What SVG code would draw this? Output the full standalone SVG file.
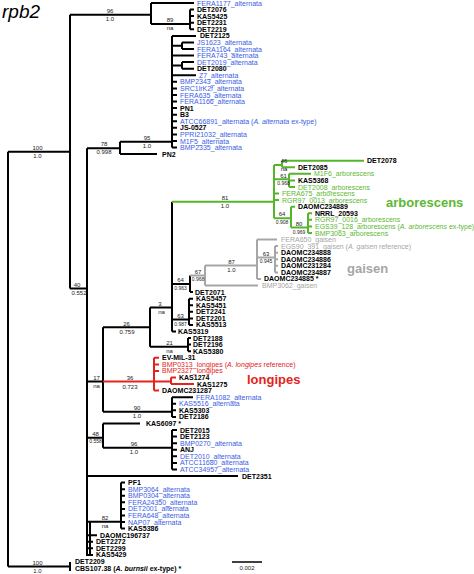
<svg xmlns="http://www.w3.org/2000/svg" width="474" height="574" viewBox="0 0 474 574">
<style>
text{font-family:"Liberation Sans",Arial,sans-serif;font-size:7px;fill:#000}
.b{font-weight:bold}
.bl{fill:#3d60e4}
.gr{fill:#5cb832}
.rd{fill:#e3231c}
.gy{fill:#a6a6a6}
.s{font-size:6px;text-anchor:middle;fill:#222}
.ss{font-size:5px;text-anchor:middle;fill:#222}
.grp{font-size:13px;font-weight:bold}
.k{fill:none;stroke:#000;stroke-width:2}
.kg{fill:none;stroke:#55b52b;stroke-width:2}
.kr{fill:none;stroke:#e3231c;stroke-width:2}
.ky{fill:none;stroke:#a6a6a6;stroke-width:2}
</style>
<rect width="474" height="574" fill="#fff"/>
<text id="title" x="2" y="18" style="font-size:19px;font-style:italic">rpb2</text>

<g id="connectors">
<path class="k" d="M8,151.7V566.5M8,151.7H70M8,566.5H70M70,562V571
M70,14.7V288.5M70,14.7H151M151,3V24M151,3H194M151,24H190M190,9.6V29.3M190,9.6H194M190,16.1H194M190,22.7H194M190,29.3H194
M70,288.5H87M87,148.3V556M87,148.3H120M120,141.7V154.1M120,154.1H157M120,141.7H172
M172,35.9V147.5M172,35.9H196M172,45.7H182M182,42.4V49M182,42.4H194M182,49H194M172,55.6H194M172,65.4H182M182,62.1V68.7M182,62.1H194M182,68.7H194M172,75.3H196
M172,81.8H177M172,88.4H177M172,95H177M172,101.6H177M172,108.1H177M172,114.7H177M172,121.3H177M172,127.8H177M172,134.4H177M172,141H177M172,147.5H177
M172,201.7V331.5M172,284H190M190,275.5V292.1M190,292.1H193
M150,307.5H172M172,319.5H189M189,298.7V324.9M189,298.7H193M189,305.2H193M189,311.8H193M189,318.4H193M189,324.9H193M172,331.5H176
M103,327.3H150M150,307.5V346.7M150,346.7H188M188,338.1V351.2M188,338.1H191M188,344.6H191M188,351.2H191
M103,327.3V411.7M87,381.5H103
M103,411.7H172M172,397.2V416.9M172,397.2H193M172,403.8H176M172,410.3H176M172,416.9H176
M87,437.7H103M103,423.5V447.7M103,423.5H140M103,447.7H172M172,430.1V469.5M172,430.1H177M172,436.6H177M172,443.2H177M172,449.8H177M172,456.3H177M172,462.9H177M172,469.5H177
M87,476H238
M87,521.7H121M121,482.6V528.6M121,482.6H125M121,489.2H125M121,495.8H125M121,502.3H125M121,508.9H125M121,515.5H125M121,522H125M121,528.6H125
M90,521V556M87,535.2H97M87,541.7H93M87,548.3H93M87,554.9H93"/>
<path class="kg" d="M172,201.7H274M274,165V218.3M274,165H282M282,160.7V167.3M282,160.7H364M282,167.3H295
M274,179.3H289M289,173.8V187M289,173.8H311M289,180.4H295M289,187H295M274,193.5H279M274,200.1H279
M274,218.3H291M291,206.7V227.5M291,206.7H295M291,227.5H308M308,213.2V233M308,213.2H312M308,219.8H312M308,226.4H312M308,233H312"/>
<path class="ky" d="M190,275.5H205M205,265.5V285.5M205,265.5H257M205,285.5H258M257,239.5V278.9M257,239.5H277M257,257.5H275M275,246.1V272.4M275,246.1H278M275,252.7H278M275,259.2H278M275,265.8H278M275,272.4H278M257,278.9H261"/>
<path class="kr" d="M103,381.5H171M154,357.8V390.6M154,357.8H159M154,364.4H159M154,370.9H159M154,390.6H159M171,377.5V384.1M171,377.5H176M171,384.1H194"/>
<path d="M232,562H262" stroke="#000" stroke-width="1.5"/>
</g>

<g id="support">
<text class="s" x="110" y="12.5">96</text><text class="s" x="110" y="20.5">1.0</text>
<text class="s" x="170" y="22">89</text><text class="s" x="170" y="30">na</text>
<text class="s" x="147" y="139.7">95</text><text class="s" x="147" y="147.7">1.0</text>
<text class="s" x="104" y="146.3">78</text><text class="s" x="104" y="154.3">0.998</text>
<text class="s" x="37.5" y="149.7">100</text><text class="s" x="37.5" y="157.7">1.0</text>
<text class="s" x="77" y="286.5">40</text><text class="s" x="79" y="294.5">0.552</text>
<text class="s" x="225" y="199.7">81</text><text class="s" x="225" y="207.7">1.0</text>
<text class="s" x="284" y="163">46</text><text class="s" x="284" y="171">na</text>
<text class="s" x="283.5" y="177.5">61</text><text class="ss" x="283.5" y="185">0.968</text>
<text class="s" x="282" y="216">64</text><text class="ss" x="282" y="223.5">0.908</text>
<text class="s" x="299" y="225.8">80</text><text class="ss" x="299" y="233.5">0.969</text>
<text class="s" x="231.5" y="263.5">87</text><text class="s" x="231.5" y="271.5">1.0</text>
<text class="s" x="266" y="255.5">63</text><text class="ss" x="266" y="263">0.945</text>
<text class="s" x="198" y="273.8">67</text><text class="ss" x="198" y="281.3">0.968</text>
<text class="s" x="180.5" y="282.2">64</text><text class="ss" x="180.5" y="289.5">0.963</text>
<text class="s" x="160" y="305.5">3</text><text class="s" x="161.5" y="313.5">na</text>
<text class="s" x="180.5" y="317.8">63</text><text class="ss" x="180.5" y="325.5">0.987</text>
<text class="s" x="126.5" y="325.5">26</text><text class="s" x="127" y="334">0.759</text>
<text class="s" x="169.5" y="344.8">21</text><text class="s" x="169.5" y="352.7">na</text>
<text class="s" x="96.5" y="379.7">17</text><text class="s" x="96.5" y="388">na</text>
<text class="s" x="130" y="379.7">36</text><text class="s" x="130" y="388.5">0.723</text>
<text class="s" x="137" y="409.7">90</text><text class="s" x="137" y="417.7">1.0</text>
<text class="s" x="95.5" y="435.7">48</text><text class="ss" x="95.5" y="443">0.558</text>
<text class="s" x="134" y="445.7">96</text><text class="s" x="134" y="453.7">1.0</text>
<text class="s" x="105" y="519.7">82</text><text class="s" x="105" y="527.7">na</text>
<text class="s" x="37.5" y="564.5">100</text><text class="s" x="37.5" y="572.5">1.0</text>
<text class="s" x="247" y="569.5">0.002</text>
</g>

<g id="taxa">
<text class="bl" x="197" y="5.5">FERA1177_alternata</text>
<text class="b" x="197" y="12.1">DET2076</text>
<text class="b" x="197" y="18.6">KAS5425</text>
<text class="b" x="197" y="25.2">DET2231</text>
<text class="b" x="197" y="31.8">DET2219</text>
<text class="b" x="200" y="38.4">DET2125</text>
<text class="bl" x="197" y="44.9">JS1623_alternata</text>
<text class="bl" x="197" y="51.5">FERA1164_alternata</text>
<text class="bl" x="197" y="58.1">FERA743_alternata</text>
<text class="bl" x="197" y="64.6">DET2019_alternata</text>
<text class="b" x="197" y="71.2">DET2080</text>
<text class="bl" x="199" y="77.8">Z7_alternata</text>
<text class="bl" x="180" y="84.3">BMP2343_alternata</text>
<text class="bl" x="180" y="90.9">SRC1lrK2f_alternata</text>
<text class="bl" x="180" y="97.5">FERA635_alternata</text>
<text class="bl" x="180" y="104.1">FERA1166_alternata</text>
<text class="b" x="180" y="110.6">PN1</text>
<text class="b" x="180" y="117.2">B3</text>
<text class="bl" x="180" y="123.8">ATCC66891_alternata (<tspan font-style="italic">A. alternata</tspan> ex-type)</text>
<text class="b" x="180" y="130.3">JS-0527</text>
<text class="bl" x="180" y="136.9">PPRI21032_alternata</text>
<text class="bl" x="180" y="143.5">M1F5_alternata</text>
<text class="bl" x="180" y="150">BMP2335_alternata</text>
<text class="b" x="162" y="156.6">PN2</text>
<text class="b" x="367" y="163.2">DET2078</text>
<text class="b" x="298" y="169.8">DET2085</text>
<text class="gr" x="314" y="176.3">M1F6_arborescens</text>
<text class="b" x="298" y="182.9">KAS5368</text>
<text class="gr" x="298" y="189.5">DET2008_arborescens</text>
<text class="gr" x="282" y="196">FERA675_arborescens</text>
<text class="gr" x="282" y="202.6">RGR97_0013_arborescens</text>
<text class="b" x="298" y="209.2">DAOMC234889</text>
<text class="b" x="315" y="215.7">NRRL_20593</text>
<text class="gr" x="315" y="222.3">RGR97_0016_arborescens</text>
<text class="gr" x="315" y="228.9">EGS39_128_arborescens (<tspan font-style="italic">A. arborescens</tspan> ex-type)</text>
<text class="gr" x="315" y="235.5">BMP3063_arborescens</text>
<text class="gy" x="281" y="242">FERA650_gaisen</text>
<text class="gy" x="281" y="248.6">EGS90_391_gaisen (<tspan font-style="italic">A. gaisen</tspan> reference)</text>
<text class="b" x="281" y="255.2">DAOMC234888</text>
<text class="b" x="281" y="261.7">DAOMC234886</text>
<text class="b" x="281" y="268.3">DAOMC231284</text>
<text class="b" x="281" y="274.9">DAOMC234887</text>
<text class="b" x="264" y="281.4">DAOMC234885 *</text>
<text class="gy" x="262" y="288">BMP3062_gaisen</text>
<text class="b" x="195" y="294.6">DET2071</text>
<text class="b" x="196" y="301.2">KAS5457</text>
<text class="b" x="196" y="307.7">KAS5451</text>
<text class="b" x="196" y="314.3">DET2241</text>
<text class="b" x="196" y="320.9">DET2201</text>
<text class="b" x="196" y="327.4">KAS5513</text>
<text class="b" x="178" y="334">KAS5319</text>
<text class="b" x="193" y="340.6">DET2188</text>
<text class="b" x="193" y="347.1">DET2196</text>
<text class="b" x="193" y="353.7">KAS5380</text>
<text class="b" x="162" y="360.3">EV-MIL-31</text>
<text class="rd" x="162" y="366.9">BMP0313_longipes (<tspan font-style="italic">A. longipes</tspan> reference)</text>
<text class="rd" x="162" y="373.4">BMP2327_longipes</text>
<text class="b" x="179" y="380">KAS1274</text>
<text class="b" x="197" y="386.6">KAS1275</text>
<text class="b" x="162" y="393.1">DAOMC231287</text>
<text class="bl" x="196" y="399.7">FERA1082_alternata</text>
<text class="bl" x="179" y="406.3">KAS5516_alternata</text>
<text class="b" x="179" y="412.8">KAS5303</text>
<text class="b" x="179" y="419.4">DET2186</text>
<text class="b" x="146" y="426">KAS6097 *</text>
<text class="b" x="180" y="432.6">DET2015</text>
<text class="b" x="180" y="439.1">DET2123</text>
<text class="bl" x="180" y="445.7">BMP0270_alternata</text>
<text class="b" x="180" y="452.3">ANJ</text>
<text class="bl" x="180" y="458.8">DET2010_alternata</text>
<text class="bl" x="180" y="465.4">ATCC11680_alternata</text>
<text class="bl" x="180" y="472">ATCC34957_alternata</text>
<text class="b" x="242" y="478.5">DET2351</text>
<text class="b" x="128" y="485.1">PF1</text>
<text class="bl" x="128" y="491.7">BMP3064_alternata</text>
<text class="bl" x="128" y="498.3">BMP0304_alternata</text>
<text class="bl" x="128" y="504.8">FERA24350_alternata</text>
<text class="bl" x="128" y="511.4">DET2001_alternata</text>
<text class="bl" x="128" y="518">FERA648_alternata</text>
<text class="bl" x="128" y="524.5">NAP07_alternata</text>
<text class="b" x="128" y="531.1">KAS5386</text>
<text class="b" x="100" y="537.7">DAOMC196737</text>
<text class="b" x="96" y="544.2">DET2272</text>
<text class="b" x="96" y="550.8">DET2299</text>
<text class="b" x="96" y="557.4">KAS5429</text>
<text class="b" x="75" y="564">DET2209</text>
<text class="b" x="75" y="570.5">CBS107.38 (<tspan font-style="italic">A. burnsii</tspan> ex-type) *</text>
</g>

<g id="clade-labels">
<text class="grp gr" x="386" y="206.7">arborescens</text>
<text class="grp gy" x="347" y="272.5">gaisen</text>
<text class="grp rd" x="247" y="384">longipes</text>
</g>
</svg>
